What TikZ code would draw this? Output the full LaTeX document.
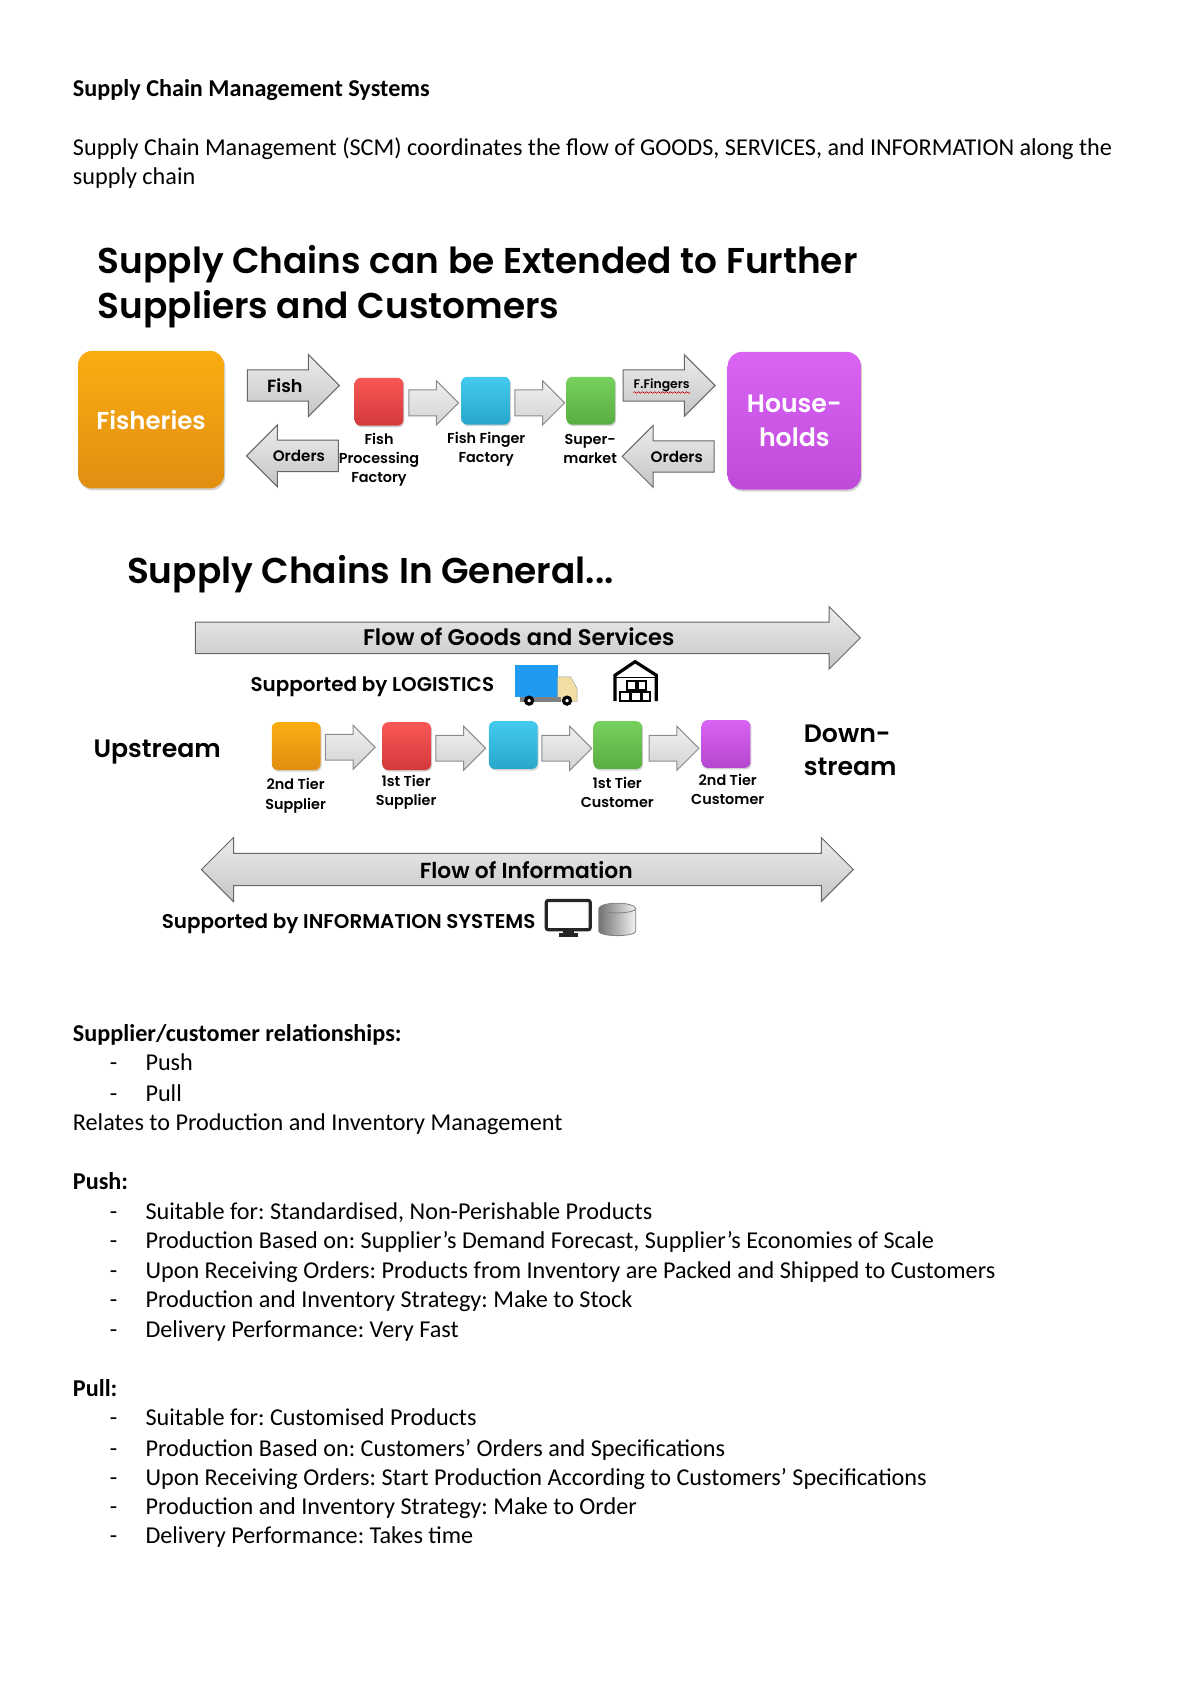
\documentclass[tikz,border=0pt]{standalone}
\usepackage{fontspec}
\setmainfont{Carlito}
\newfontfamily\gothfont{Poppins}[BoldFont={Poppins SemiBold}]
\usetikzlibrary{shapes.arrows,shadows,decorations.pathmorphing}
\definecolor{fishorange}{HTML}{FA9E14}
\definecolor{redbox}{HTML}{F84444}
\definecolor{bluebox}{HTML}{2FC4EE}
\definecolor{greenbox}{HTML}{68CC4C}
\definecolor{purplebox}{HTML}{D552F2}
\definecolor{truckblue}{HTML}{1E9BF0}
\definecolor{cabtan}{HTML}{F2DFA6}
\tikzset{
  bodytext/.style={anchor=mid west,inner sep=0pt,yshift=-1.8pt,font=\fontsize{12.1}{14}\selectfont\frenchspacing},
  bodybold/.style={bodytext,font=\fontsize{12.1}{14}\selectfont\frenchspacing\bfseries},
  slidetitle/.style={anchor=mid west,inner sep=0pt,yshift=-4.2pt,font=\gothfont\fontsize{17.95}{20}\selectfont},
  sidetext/.style={anchor=mid west,inner sep=0pt,yshift=-2.6pt,font=\gothfont\fontsize{12.6}{16}\selectfont},
  supportline/.style={anchor=mid west,inner sep=0pt,yshift=-1pt,font=\gothfont\fontsize{9.95}{12}\selectfont},
  tinylabel/.style={inner sep=0pt,yshift=-0.4pt,align=center,font=\gothfont\fontsize{7.2}{9.6}\selectfont},
  arrowlabel/.style={inner sep=0pt,font=\gothfont\fontsize{7.6}{10}\selectfont},
  barlabel/.style={inner sep=0pt,font=\gothfont\fontsize{10.9}{12}\selectfont},
  bigbox/.style={rounded corners=7pt,minimum height=68.8pt,text=white,drop shadow={opacity=0.35,shadow xshift=0.6pt,shadow yshift=-1pt},align=center,inner sep=0pt},
  smallbox/.style={rounded corners=3pt,minimum width=24.4pt,minimum height=23.9pt,inner sep=0pt,drop shadow={opacity=0.35,shadow xshift=0.5pt,shadow yshift=-0.8pt}},
  fatarrow/.style={single arrow,shape border rotate=#1,single arrow tip angle=90,inner sep=0pt,anchor=tail,draw=black!60,line width=0.5pt,top color=gray!15,bottom color=gray!45},
  fatarrow/.default=0,
  bigarrow/.style={fatarrow=#1,text height=15.2pt,text depth=0pt,minimum height=46pt,minimum width=30.3pt,single arrow head extend=7.6pt},
  bigarrow/.default=0,
  smallarrow/.style={fatarrow=0,draw=black!45,top color=gray!12,bottom color=gray!35,text height=12.4pt,text depth=0pt,minimum height=24.9pt,minimum width=21.7pt,single arrow head extend=4.6pt},
}
\begin{document}
\begin{tikzpicture}[x=0.5415pt,y=-0.5415pt]
\useasboundingbox (0,0) rectangle (1108,1568);

% page text, top
\node[bodybold] (pagetitle) at (67,81) {Supply Chain Management Systems};
\node[bodytext] (introa) at (67,136) {Supply Chain Management (SCM) coordinates the flow of GOODS, SERVICES, and INFORMATION along the};
\node[bodytext] (introb) at (67,163) {supply chain};

% first slide
\node[slidetitle] (titlea) at (90,240) {\textbf{Supply Chains can be Extended to Further}};
\node[slidetitle] (titleb) at (90,282) {\textbf{Suppliers and Customers}};

\node[bigbox,minimum width=73pt,top color=fishorange!85!yellow,bottom color=fishorange!90!black,font=\gothfont\fontsize{12.2}{15}\selectfont] (fisheries) at (139.5,387.5) {\textbf{Fisheries}};
\node[bigbox,minimum width=66.6pt,top color=purplebox!90!white,bottom color=purplebox!90!black,font=\gothfont\fontsize{12.6}{16.8}\selectfont] (households) at (733.5,388.5) {\textbf{House-}\\\textbf{holds}};

\node[bigarrow] (fisharrow) at (228,356) {};
\node[bigarrow=180] (ordersleft) at (313,421) {};
\node[bigarrow] (fingersarrow) at (575,356) {};
\node[bigarrow=180] (ordersright) at (660,421.5) {};
\node[arrowlabel,font=\gothfont\fontsize{8.8}{12}\selectfont] (fishlabel) at (263,356) {\textbf{Fish}};
\node[arrowlabel] (orderslabela) at (276,421) {\textbf{Orders}};
\node[arrowlabel,font=\gothfont\fontsize{6.2}{8}\selectfont] (fingerslabel) at (611,356) {\textbf{F.Fingers}};
\node[arrowlabel] (orderslabelb) at (625,421.5) {\textbf{Orders}};
\draw[red!80!black,line width=0.3pt,decorate,decoration={snake,amplitude=0.4pt,segment length=2pt}] (fingerslabel.south west) -- (fingerslabel.south east);

\node[smallbox,top color=redbox!90!white,bottom color=redbox!85!black] (fishbox) at (350,371) {};
\node[smallbox,top color=bluebox!90!white,bottom color=bluebox!85!black] (fingerbox) at (448.5,370) {};
\node[smallbox,top color=greenbox!90!white,bottom color=greenbox!85!black] (marketbox) at (545.5,370) {};
\node[smallarrow] (stepa) at (377,372) {};
\node[smallarrow] (stepb) at (475,372) {};
\node[tinylabel] (fishname) at (350,424) {\textbf{Fish}\\\textbf{Processing}\\\textbf{Factory}};
\node[tinylabel] (fingername) at (449,414) {\textbf{Fish Finger}\\\textbf{Factory}};
\node[tinylabel] (marketname) at (545,414) {\textbf{Super-}\\\textbf{market}};

% second slide
\node[slidetitle] (titlec) at (117,527) {\textbf{Supply Chains In General...}};

\node[fatarrow,text height=15.2pt,text depth=0pt,minimum height=332.5pt,minimum width=30.9pt,single arrow head extend=7.8pt] (goodsarrow) at (180,589) {};
\node[barlabel,font=\gothfont\fontsize{11.3}{12}\selectfont] (goodslabel) at (479,588) {\textbf{Flow of Goods and Services}};

\node[supportline] (logistics) at (231,632) {\textbf{Supported by LOGISTICS}};
% truck
\fill[truckblue] (476,614) rectangle (515,643.5);
\fill[cabtan,draw=black!40,line width=0.2pt] (515,625) -- (527,625) -- (533,636) -- (533,648) -- (515,648) -- cycle;
\fill[gray] (480,643.5) rectangle (518,648);
\draw[black,line width=1.6pt,fill=white] (488.6,647) circle (3.2);
\draw[black,line width=1.6pt,fill=white] (523.6,647) circle (3.2);
% warehouse
\draw[black,line width=1.6pt,line join=miter] (568,647.5) -- (568,623.5) -- (586.5,611) -- (606,623.5) -- (606,647.5);
\draw[black,line width=0.8pt] (568,625.5) -- (606,625.5);
\draw[black,line width=0.9pt] (579,629) rectangle (587.5,637) (589,629) rectangle (596.5,637);
\draw[black,line width=0.9pt] (572.5,639) rectangle (581.5,647) (582.5,639) rectangle (591.5,647) (593,639) rectangle (600.5,647);

\node[sidetext] (upstream) at (86,690) {\textbf{Upstream}};
\node[sidetext] (downa) at (742,676) {\textbf{Down-}};
\node[sidetext] (downb) at (742,707) {\textbf{stream}};

\node[smallbox,top color=fishorange!85!yellow,bottom color=fishorange!90!black] (tiertwosup) at (273.5,689) {};
\node[smallbox,top color=redbox!90!white,bottom color=redbox!85!black] (tieronesup) at (375.5,689) {};
\node[smallbox,top color=bluebox!90!white,bottom color=bluebox!85!black] (focalbox) at (474,688) {};
\node[smallbox,top color=greenbox!90!white,bottom color=greenbox!85!black] (tieronecus) at (570.5,688) {};
\node[smallbox,top color=purplebox!90!white,bottom color=purplebox!85!black] (tiertwocus) at (670.5,687) {};
\node[smallarrow] (flowa) at (300,690) {};
\node[smallarrow] (flowb) at (402,691) {};
\node[smallarrow] (flowc) at (500,691) {};
\node[smallarrow] (flowd) at (599,691) {};
\node[tinylabel] (twosupname) at (273,734) {\textbf{2nd Tier}\\\textbf{Supplier}};
\node[tinylabel] (onesupname) at (375,731) {\textbf{1st Tier}\\\textbf{Supplier}};
\node[tinylabel] (onecusname) at (570,731) {\textbf{1st Tier}\\\textbf{Customer}};
\node[tinylabel] (twocusname) at (672,728) {\textbf{2nd Tier}\\\textbf{Customer}};

\node[double arrow,double arrow tip angle=90,inner sep=0pt,draw=black!60,line width=0.5pt,top color=gray!15,bottom color=gray!45,text height=15.6pt,text depth=0pt,minimum height=326pt,minimum width=31.4pt,double arrow head extend=8pt] (infoarrow) at (487,803) {};
\node[barlabel] (infolabel) at (486,803) {\textbf{Flow of Information}};

\node[supportline] (infosys) at (149,851) {\textbf{Supported by INFORMATION SYSTEMS}};
% monitor
\draw[black!85,line width=1.6pt,rounded corners=1pt,fill=white] (504.5,831.5) rectangle (545,858.5);
\fill[black!85] (520,858) rectangle (530,863);
\fill[black!85] (516,862) rectangle (534,865);
% database
\shade[left color=gray!90!black,right color=gray!10,draw=black!50,line width=0.4pt] (553,839) -- (553,860) arc[start angle=180,end angle=0,x radius=17,y radius=4] -- (587,839) arc[start angle=0,end angle=-180,x radius=17,y radius=5];
\draw[black!50,line width=0.4pt] (553,839) arc[start angle=180,end angle=0,x radius=17,y radius=4];

% page text, bottom
\node[bodybold] (relations) at (67,954) {Supplier/customer relationships:};
\node[bodytext] (dasha) at (101,981) {-};
\node[bodytext] (pusha) at (134,981) {Push};
\node[bodytext] (dashb) at (101,1009) {-};
\node[bodytext] (pulla) at (134,1009) {Pull};
\node[bodytext] (relates) at (67,1036) {Relates to Production and Inventory Management};

\node[bodybold] (pushhead) at (67,1091) {Push:};
\node[bodytext] (dashc) at (101,1118) {-};
\node[bodytext] (pushb) at (134,1118) {Suitable for: Standardised, Non-Perishable Products};
\node[bodytext] (dashd) at (101,1145) {-};
\node[bodytext] (pushc) at (134,1145) {Production Based on: Supplier’s Demand Forecast, Supplier’s Economies of Scale};
\node[bodytext] (dashe) at (101,1173) {-};
\node[bodytext] (pushd) at (134,1173) {Upon Receiving Orders: Products from Inventory are Packed and Shipped to Customers};
\node[bodytext] (dashf) at (101,1200) {-};
\node[bodytext] (pushe) at (134,1200) {Production and Inventory Strategy: Make to Stock};
\node[bodytext] (dashg) at (101,1227) {-};
\node[bodytext] (pushf) at (134,1227) {Delivery Performance: Very Fast};

\node[bodybold] (pullhead) at (67,1282) {Pull:};
\node[bodytext] (dashh) at (101,1309) {-};
\node[bodytext] (pullb) at (134,1309) {Suitable for: Customised Products};
\node[bodytext] (dashi) at (101,1337) {-};
\node[bodytext] (pullc) at (134,1337) {Production Based on: Customers’ Orders and Specifications};
\node[bodytext] (dashj) at (101,1364) {-};
\node[bodytext] (pulld) at (134,1364) {Upon Receiving Orders: Start Production According to Customers’ Specifications};
\node[bodytext] (dashk) at (101,1391) {-};
\node[bodytext] (pulle) at (134,1391) {Production and Inventory Strategy: Make to Order};
\node[bodytext] (dashl) at (101,1418) {-};
\node[bodytext] (pullf) at (134,1418) {Delivery Performance: Takes time};
\end{tikzpicture}
\end{document}
